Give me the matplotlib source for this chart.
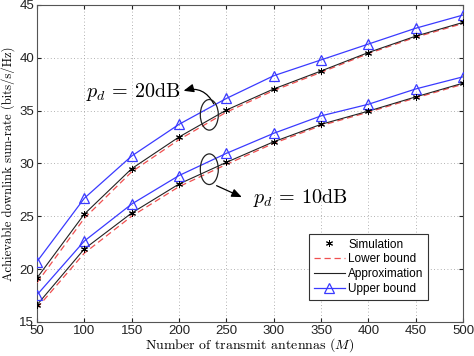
import numpy as np
import matplotlib.pyplot as plt
from matplotlib.patches import Ellipse

M = [50, 100, 150, 200, 250, 300, 350, 400, 450, 500]

# p_d = 20 dB
sim_20 = [19.15, 25.2, 29.5, 32.5, 35.05, 37.05, 38.75, 40.5, 42.05, 43.35]
low_20 = [18.7, 24.8, 29.2, 32.25, 34.85, 36.9, 38.62, 40.4, 41.95, 43.25]
app_20 = [19.15, 25.2, 29.5, 32.5, 35.05, 37.05, 38.75, 40.5, 42.05, 43.35]
up_20 = [20.7, 26.7, 30.7, 33.7, 36.15, 38.3, 39.8, 41.3, 42.8, 44.05]

# p_d = 10 dB
sim_10 = [16.6, 21.9, 25.3, 28.05, 30.1, 32.05, 33.7, 34.95, 36.3, 37.6]
low_10 = [16.3, 21.5, 25.0, 27.8, 29.9, 31.9, 33.58, 34.85, 36.2, 37.5]
app_10 = [16.6, 21.9, 25.3, 28.05, 30.1, 32.05, 33.7, 34.95, 36.3, 37.6]
up_10 = [17.55, 22.65, 26.15, 28.85, 30.95, 32.85, 34.5, 35.6, 37.05, 38.2]

plt.rcParams['mathtext.fontset'] = 'cm'
plt.rcParams['font.family'] = ['Liberation Sans', 'DejaVu Sans']

blue = '#3a3aff'
red = '#f05050'
star = (6, 2, 0)  # asterisk like matlab '*'

fig = plt.figure(figsize=(4.74, 3.56), dpi=100)
ax = fig.add_axes([0.078, 0.096, 0.899, 0.890])

for sim, low, app, up in [(sim_20, low_20, app_20, up_20), (sim_10, low_10, app_10, up_10)]:
    ax.plot(M, low, '--', color=red, lw=0.9, dashes=(5, 3), zorder=3)
    ax.plot(M, app, '-', color='#222222', lw=0.8, zorder=4)
    ax.plot(M, sim, ls='none', marker=star, color='black', ms=5, mew=0.7, zorder=5)
    ax.plot(M, up, '-^', color=blue, lw=0.9, ms=6.5, mfc='none', mec=blue, mew=0.9, zorder=4)

# legend handles
h_sim, = ax.plot([], [], ls='none', marker=star, color='black', ms=5, mew=0.7)
h_low, = ax.plot([], [], '--', color=red, lw=0.9, dashes=(5, 3))
h_app, = ax.plot([], [], '-', color='#222222', lw=0.8)
h_up, = ax.plot([], [], '-^', color=blue, lw=0.9, ms=6.5, mfc='none', mec=blue, mew=0.9)
leg = ax.legend([h_sim, h_low, h_app, h_up],
                ['Simulation', 'Lower bound', 'Approximation', 'Upper bound'],
                loc='lower right', bbox_to_anchor=(0.932, 0.05), fontsize=8.5,
                fancybox=False, framealpha=1, edgecolor='#333333',
                handlelength=2.6, handletextpad=0.3, borderpad=0.4, labelspacing=0.25)
leg.get_frame().set_linewidth(0.8)

# ellipses and annotations
ax.add_patch(Ellipse((232, 34.6), 19, 2.9, fill=False, lw=0.9, color='#222222', zorder=6))
ax.add_patch(Ellipse((232, 29.45), 19, 2.9, fill=False, lw=0.9, color='#222222', zorder=6))

ax.annotate('', xy=(202, 36.8), xytext=(238, 35.4),
            arrowprops=dict(arrowstyle='-|>,head_length=0.6,head_width=0.25', color='black', lw=0.9,
                            connectionstyle='arc3,rad=0.45'))
ax.text(102, 36.8, r'$p_d\,=\,20\mathrm{dB}$', fontsize=14.5, va='center', ha='left')

ax.annotate('', xy=(269, 26.7), xytext=(237, 28.0),
            arrowprops=dict(arrowstyle='-|>,head_length=0.6,head_width=0.25', color='black', lw=0.9))
ax.text(278, 26.7, r'$p_d\,=\,10\mathrm{dB}$', fontsize=14.5, va='center', ha='left')

ax.set_xlim(50, 500)
ax.set_ylim(15, 45)
ax.set_xticks(np.arange(50, 501, 50))
ax.set_yticks(np.arange(15, 46, 5))
ax.tick_params(direction='in', top=True, right=True, labelsize=9.5, length=3, pad=2, colors='#222222')
ax.grid(True, ls=(0, (1, 3)), color='#999999', lw=0.6)
for s in ax.spines.values():
    s.set_color('#555555')
    s.set_linewidth(0.8)

ax.set_xlabel(r'Number of transmit antennas $(M)$', family='cmr10', fontsize=10, labelpad=0)
ax.set_ylabel('Achievable downlink sum-rate (bits/s/Hz)', family='cmr10', fontsize=9.1, labelpad=3)

fig.savefig('out.png', dpi=100)
